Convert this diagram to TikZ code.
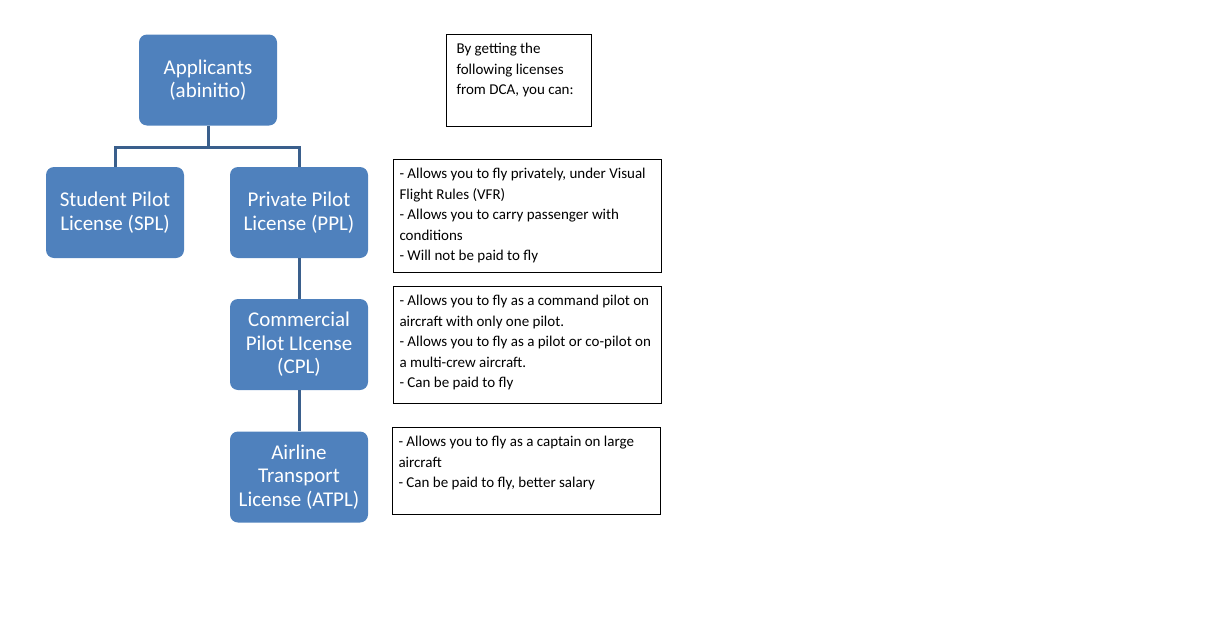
\documentclass[tikz,border=0pt]{standalone}
\usepackage{fontspec}
\setmainfont{Carlito}
\usetikzlibrary{positioning}
\definecolor{OfficeBlue}{RGB}{79,129,189}
\definecolor{LinkBlue}{RGB}{58,95,140}

\newcommand{\infotext}[3]{\parbox[c][#2][t]{#1}{\raggedright #3}}

\begin{document}
\begin{tikzpicture}[
    x=1pt,y=-1pt,
    license/.style={rectangle,rounded corners=8pt,fill=OfficeBlue,text=white,minimum width=138pt,minimum height=91pt,align=center,font=\fontsize{21}{23.5}\selectfont},
    infobox/.style={rectangle,draw=black,line width=1pt,inner xsep=6pt,inner ysep=9pt,font=\fontsize{15}{20.5}\selectfont},
    link/.style={draw=LinkBlue,line width=3pt}
]
\useasboundingbox (0,0) rectangle (1207,637);

% License boxes
\node[license] (app) at (208,80) {Applicants\\(abinitio)};
\node[license] (spl) at (115,212.5) {Student Pilot\\License (SPL)};
\node[license] (ppl) at (299,212.5) {Private Pilot\\License (PPL)};
\node[license] (cpl) at (299,344.5) {Commercial\\Pilot LIcense\\(CPL)};
\node[license] (atpl) at (299,477) {Airline\\Transport\\License (ATPL)};

% Connectors
\coordinate (split) at (208,147);
\draw[link] (app.south) -- (split) -| (spl.north);
\draw[link] (split) -| (ppl.north);
\draw[link] (ppl) -- (cpl);
\draw[link] (cpl) -- (atpl);

% Notes
\node[infobox,inner xsep=10pt,anchor=north west] (intro) at (446,34) {\infotext{125pt}{74pt}{By getting the\\following licenses\\from DCA, you can:}};
\node[infobox,anchor=north west] (ppl-note) at (393,159) {\infotext{256pt}{95pt}{- Allows you to fly privately, under Visual\\Flight Rules (VFR)\\- Allows you to carry passenger with\\conditions\\- Will not be paid to fly}};
\node[infobox,anchor=north west] (cpl-note) at (393,286) {\infotext{256pt}{99pt}{- Allows you to fly as a command pilot on\\aircraft with only one pilot.\\- Allows you to fly as a pilot or co-pilot on\\a multi-crew aircraft.\\- Can be paid to fly}};
\node[infobox,anchor=north west] (atpl-note) at (392,427) {\infotext{256pt}{69pt}{- Allows you to fly as a captain on large\\aircraft\\- Can be paid to fly, better salary}};

\end{tikzpicture}
\end{document}
